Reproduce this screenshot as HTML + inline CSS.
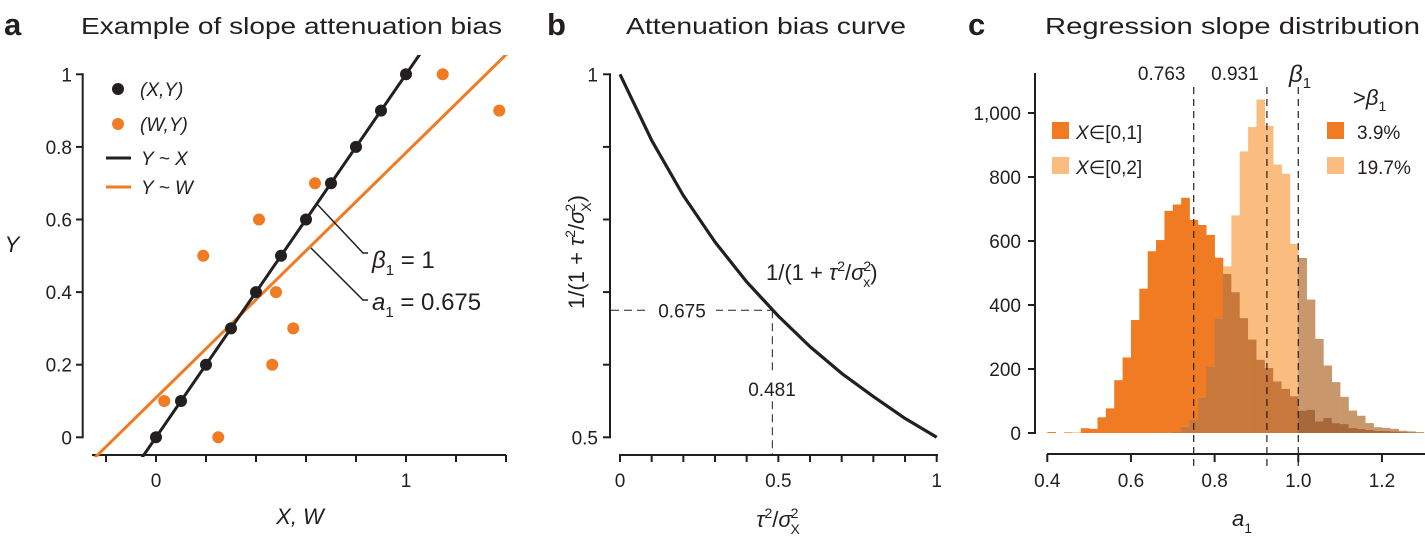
<!DOCTYPE html>
<html><head><meta charset="utf-8"><style>
html,body{margin:0;padding:0;background:#fff;}
svg{display:block;font-family:"Liberation Sans",sans-serif;}
</style></head><body>
<svg id="fig" width="1425" height="544" viewBox="0 0 1425 544" xmlns="http://www.w3.org/2000/svg">
<g fill="#231f20">
<text x="4" y="35" font-size="31" font-weight="bold">a</text>
<text x="81" y="34" font-size="23" font-family="Liberation Sans Narrow, Liberation Sans, sans-serif" textLength="421" lengthAdjust="spacingAndGlyphs">Example of slope attenuation bias</text>
<text x="547" y="35" font-size="31" font-weight="bold">b</text>
<text x="626" y="34" font-size="23" font-family="Liberation Sans Narrow, Liberation Sans, sans-serif" textLength="280" lengthAdjust="spacingAndGlyphs">Attenuation bias curve</text>
<text x="968" y="35" font-size="31" font-weight="bold">c</text>
<text x="1045" y="34" font-size="23" font-family="Liberation Sans Narrow, Liberation Sans, sans-serif" textLength="375" lengthAdjust="spacingAndGlyphs">Regression slope distribution</text>
</g>
<g id="pa"></g>
<g id="pb"></g>
<g id="pc"></g>
</svg>
<script>
// ---------- Panel a data ----------
const aXY_X = [0,0.1,0.2,0.3,0.4,0.5,0.6,0.7,0.8,0.9,1.0];
const aXY_Y = [0,0.1,0.2,0.3,0.4,0.5,0.6,0.7,0.8,0.9,1.0];
const aWY_W = [0.249,0.033,0.465,0.549,0.48,0.189,0.412,0.636,0.8,1.373,1.147];
const aWY_Y = [0,0.1,0.2,0.3,0.4,0.5,0.6,0.7,0.8,0.9,1.0];
const aFitXY = [1.0, 0.0];      // slope, intercept
const aFitWY = [0.675, 0.109];
const aYTicks = [0,0.2,0.4,0.6,0.8,1];
const aYTickLabels = ["0","0.2","0.4","0.6","0.8","1"];
const aXTicks = [-0.2,0,0.2,0.4,0.6,0.8,1,1.2,1.4];
const aXTickLabels = ["0","1"];
const aXTickLabelVals = [0,1];
// ---------- Panel b data ----------
const bTau = [0,0.1,0.2,0.3,0.4,0.5,0.6,0.7,0.8,0.9,1.0];
const bAtten = [1,0.909,0.833,0.769,0.714,0.667,0.625,0.588,0.556,0.526,0.5];
const bMark = [0.481,0.675];
const bYTicks = [0.5,0.6,0.7,0.8,0.9,1];
const bYTickLabels = {"0.5":"0.5","1":"1"};
const bXTicks = [0,0.1,0.2,0.3,0.4,0.5,0.6,0.7,0.8,0.9,1];
const bXTickLabelVals = [0,0.5,1];
const bXTickLabels = ["0","0.5","1"];
// ---------- Panel c data ----------
const cBinStart = 0.40;
const cBinWidth = 0.02;
const cCountsA = [3,0,2,1,15,13,49,77,165,236,353,451,568,603,694,714,735,666,650,619,548,497,440,359,292,229,203,161,138,115,70,73,36,47,31,28,16,13,10,7,7,5,3,2,1];
const cCountsB = [0,0,0,0,0,0,0,0,0,0,0,0,0,0,2,5,21,42,112,208,359,521,680,880,956,1042,960,839,810,591,547,417,294,211,159,113,70,54,31,18,16,13,7,5,3];
const cMeanLines = [0.75,0.925,1.0];
const cMeanLabels = ["0.763","0.931"];
const cBeta = 1.0;
const cPct = ["3.9%","19.7%"];
const cYTicks = [0,200,400,600,800,1000];
const cYTickLabels = ["0","200","400","600","800","1,000"];
const cXTicks = [0.4,0.6,0.8,1.0,1.2];
const cXTickLabels = ["0.4","0.6","0.8","1.0","1.2"];

const NS="http://www.w3.org/2000/svg";
const INK="#231f20", OR="#f07b23", LT="#fbbd7f";
function mk(parent,tag,attrs,txt){const e=document.createElementNS(NS,tag);for(const k in attrs)e.setAttribute(k,attrs[k]);if(txt!==undefined)e.textContent=txt;parent.appendChild(e);return e;}

// ================= Panel a =================
(function(){
const g=document.getElementById('pa');
const x=v=>156+v*250, y=v=>437.3-v*363;
const clip=mk(g,'clipPath',{id:'clipA'});
mk(clip,'rect',{x:92,y:55,width:420,height:402});
let e;
e=mk(g,'line',{x1:82.7,y1:y(1)-1,x2:82.7,y2:y(0)+1,stroke:INK,'stroke-width':2});

aYTicks.forEach((t,i)=>{
 e=mk(g,'line',{x1:76,x2:82.7,y1:y(t),y2:y(t),stroke:INK,'stroke-width':2});
 
 e=mk(g,'text',{x:72,y:y(t)+7,'text-anchor':'end','font-size':19,fill:INK},aYTickLabels[i]);
 
});
e=mk(g,'line',{x1:92,x2:506,y1:455,y2:455,stroke:INK,'stroke-width':2});

aXTicks.forEach(t=>{
 e=mk(g,'line',{x1:x(t),x2:x(t),y1:455,y2:462,stroke:INK,'stroke-width':2});
 
});
aXTickLabelVals.forEach((t,i)=>{
 e=mk(g,'text',{x:x(t),y:487,'text-anchor':'middle','font-size':19,fill:INK},aXTickLabels[i]);
 
});
e=mk(g,'text',{x:300,y:524,'text-anchor':'middle','font-size':22,'font-style':'italic',fill:INK},'X, W');

e=mk(g,'text',{x:12,y:252,'text-anchor':'middle','font-size':22,'font-style':'italic',fill:INK},'Y');

const cg=mk(g,'g',{'clip-path':'url(#clipA)'});
e=mk(cg,'line',{x1:x(-0.3),y1:y(aFitWY[1]+aFitWY[0]*-0.3),x2:x(1.5),y2:y(aFitWY[1]+aFitWY[0]*1.5),stroke:OR,'stroke-width':3});

aWY_W.forEach((w,i)=>{
 e=mk(g,'circle',{cx:x(w),cy:y(aWY_Y[i]),r:6,fill:OR});
 
});
e=mk(cg,'line',{x1:x(-0.1),y1:y(aFitXY[1]+aFitXY[0]*-0.1),x2:x(1.1),y2:y(aFitXY[1]+aFitXY[0]*1.1),stroke:INK,'stroke-width':3});

aXY_X.forEach((v,i)=>{
 e=mk(g,'circle',{cx:x(v),cy:y(aXY_Y[i]),r:6,fill:INK});
 
});
// annotations
e=mk(g,'polyline',{points:'317,204 363,253 368,253',fill:'none',stroke:INK,'stroke-width':1.5});

e=mk(g,'polyline',{points:'311,248 363,300 368,300',fill:'none',stroke:INK,'stroke-width':1.5});

e=mk(g,'text',{x:372,y:268,'font-size':24,fill:INK});

e.innerHTML='<tspan font-style="italic">β</tspan><tspan font-size="15" dy="7">1</tspan><tspan dy="-7"> = 1</tspan>';
e=mk(g,'text',{x:372,y:310,'font-size':24,fill:INK});

e.innerHTML='<tspan font-style="italic">a</tspan><tspan font-size="15" dy="7">1</tspan><tspan dy="-7"> = 0.675</tspan>';
// legend
const lg=mk(g,'g',{});

e=mk(lg,'circle',{cx:118,cy:89,r:6,fill:INK});
e=mk(lg,'text',{x:140,y:96,'font-size':19,'font-style':'italic',fill:INK},'(X,Y)');
e=mk(lg,'circle',{cx:118,cy:124,r:6,fill:OR});
e=mk(lg,'text',{x:140,y:131,'font-size':19,'font-style':'italic',fill:INK},'(W,Y)');
e=mk(lg,'line',{x1:106,x2:131,y1:158,y2:158,stroke:INK,'stroke-width':3});
e=mk(lg,'text',{x:141,y:165,'font-size':19,'font-style':'italic',fill:INK},'Y ~ X');
e=mk(lg,'line',{x1:106,x2:131,y1:187,y2:187,stroke:OR,'stroke-width':3});
e=mk(lg,'text',{x:141,y:194,'font-size':19,'font-style':'italic',fill:INK},'Y ~ W');
})();

// ================= Panel b =================
(function(){
const g=document.getElementById('pb');
const x=v=>620+v*316.7, y=v=>437.3-(v-0.5)*726;
let e;
e=mk(g,'line',{x1:610,x2:610,y1:y(1)-1,y2:y(0.5)+1,stroke:INK,'stroke-width':2});

bYTicks.forEach(t=>{
 e=mk(g,'line',{x1:603,x2:610,y1:y(t),y2:y(t),stroke:INK,'stroke-width':2});
 
 const lab=bYTickLabels[String(t)];
 if(lab){e=mk(g,'text',{x:598,y:y(t)+7,'text-anchor':'end','font-size':19,fill:INK},lab);
 }
});
e=mk(g,'line',{x1:619,x2:938,y1:455,y2:455,stroke:INK,'stroke-width':2});

bXTicks.forEach(t=>{
 e=mk(g,'line',{x1:x(t),x2:x(t),y1:455,y2:462,stroke:INK,'stroke-width':2});
 
});
bXTickLabelVals.forEach((t,i)=>{
 e=mk(g,'text',{x:x(t),y:487,'text-anchor':'middle','font-size':19,fill:INK},bXTickLabels[i]);
 
});
// dashed guides
e=mk(g,'line',{x1:611,x2:x(bMark[0]),y1:y(bMark[1]),y2:y(bMark[1]),stroke:INK,'stroke-width':1,'stroke-dasharray':'8,5'});

e=mk(g,'line',{x1:x(bMark[0]),x2:x(bMark[0]),y1:y(bMark[1]),y2:455,stroke:INK,'stroke-width':1,'stroke-dasharray':'8,5'});

e=mk(g,'rect',{x:648,y:y(bMark[1])-11,width:68,height:22,fill:'#fff'});
e=mk(g,'text',{x:682,y:y(bMark[1])+7,'text-anchor':'middle','font-size':19,fill:INK},bMark[1].toFixed(3));

e=mk(g,'rect',{x:740,y:375,width:64,height:22,fill:'#fff'});
e=mk(g,'text',{x:772,y:396,'text-anchor':'middle','font-size':19,fill:INK},bMark[0].toFixed(3));

// curve
let d='';bTau.forEach((t,i)=>{d+=(i?'L':'M')+x(t).toFixed(1)+','+y(bAtten[i]).toFixed(1);});
e=mk(g,'path',{d:d,fill:'none',stroke:INK,'stroke-width':3.2,'stroke-linejoin':'round'});

e=mk(g,'text',{x:766,y:280,'font-size':22,fill:INK});

e.innerHTML='1/(1 + <tspan font-style="italic">τ</tspan><tspan font-size="14" dy="-9">2</tspan><tspan dy="9">/</tspan><tspan font-style="italic">σ</tspan><tspan font-size="14" dx="-1" dy="-9">2</tspan><tspan font-size="14" dx="-8" dy="16">x</tspan><tspan dy="-7">)</tspan>';
e=mk(g,'text',{x:0,y:0,'font-size':22,fill:INK,'text-anchor':'middle',transform:'translate(584,252) rotate(-90)'});

e.innerHTML='1/(1 + <tspan font-style="italic">τ</tspan><tspan font-size="14" dy="-9">2</tspan><tspan dy="9">/</tspan><tspan font-style="italic">σ</tspan><tspan font-size="14" dx="-1" dy="-9">2</tspan><tspan font-size="14" dx="-8" dy="16">X</tspan><tspan dy="-7">)</tspan>';
e=mk(g,'text',{x:778,y:527,'font-size':22,fill:INK,'text-anchor':'middle'});

e.innerHTML='<tspan font-style="italic">τ</tspan><tspan font-size="14" dy="-9">2</tspan><tspan dy="9">/</tspan><tspan font-style="italic">σ</tspan><tspan font-size="14" dx="-1" dy="-9">2</tspan><tspan font-size="14" dx="-8" dy="16">X</tspan>';
})();

// ================= Panel c =================
(function(){
const g=document.getElementById('pc');
const x=v=>1047.3+(v-0.4)*418.3, y=v=>433-v*0.32;
const C={A:OR,B:LT,AB:'#c8783a',Br:'#c8986c',ABr:'#a7683a',Ar:'#a7683a'};
let e;
for(let i=0;i<cCountsA.length;i++){
 const a=cCountsA[i],b=cCountsB[i],s=cBinStart+i*cBinWidth;
 const right=s>=cBeta-1e-9;
 const x0=x(s),w=x(s+cBinWidth)-x0+0.3;
 const lo=Math.min(a,b),hi=Math.max(a,b);
 const hiCol = a>b ? (right?C.Ar:C.A) : (right?C.Br:C.B);
 if(hi>0){e=mk(g,'rect',{x:x0,y:y(hi),width:w,height:y(lo)-y(hi),fill:hiCol});
  }
 if(lo>0){e=mk(g,'rect',{x:x0,y:y(lo),width:w,height:y(0)-y(lo),fill:right?C.ABr:C.AB});
  }
}
// dashed lines
cMeanLines.forEach((v,i)=>{
 e=mk(g,'line',{x1:x(v),x2:x(v),y1:87,y2:470,stroke:INK,'stroke-width':1.2,'stroke-dasharray':'7,5'});
 
 if(i<cMeanLabels.length){
  e=mk(g,'text',{x:x(v)-32,y:80,'text-anchor':'middle','font-size':19,fill:INK},cMeanLabels[i]);
  
 }
});
e=mk(g,'text',{x:1289,y:82,'font-size':24,fill:INK});

e.innerHTML='<tspan font-style="italic">β</tspan><tspan font-size="15" dy="6">1</tspan>';
// axes
e=mk(g,'line',{x1:1035,x2:1035,y1:73,y2:434,stroke:INK,'stroke-width':2});

cYTicks.forEach((t,i)=>{
 e=mk(g,'line',{x1:1028,x2:1035,y1:y(t),y2:y(t),stroke:INK,'stroke-width':2});
 
 e=mk(g,'text',{x:1021,y:y(t)+7,'text-anchor':'end','font-size':19,fill:INK},cYTickLabels[i]);
 
});
e=mk(g,'line',{x1:1047,x2:1425,y1:454,y2:454,stroke:INK,'stroke-width':2});

cXTicks.forEach((t,i)=>{
 e=mk(g,'line',{x1:x(t),x2:x(t),y1:454,y2:462,stroke:INK,'stroke-width':2});
 
 e=mk(g,'text',{x:x(t),y:487,'text-anchor':'middle','font-size':19,fill:INK},cXTickLabels[i]);
 
});
e=mk(g,'text',{x:1232,y:526,'font-size':22,fill:INK});

e.innerHTML='<tspan font-style="italic">a</tspan><tspan font-size="14" dy="7">1</tspan>';
// legend
const lg=mk(g,'g',{});
e=mk(lg,'rect',{x:1052,y:122,width:17,height:17,fill:OR});
e=mk(lg,'text',{x:1076,y:139,'font-size':19,fill:INK});
e.innerHTML='<tspan font-style="italic">X</tspan>∈[0,1]';
e=mk(lg,'rect',{x:1052,y:157,width:17,height:17,fill:LT});
e=mk(lg,'text',{x:1076,y:174,'font-size':19,fill:INK});
e.innerHTML='<tspan font-style="italic">X</tspan>∈[0,2]';
e=mk(lg,'text',{x:1353,y:105,'font-size':22,fill:INK});
e.innerHTML='&gt;<tspan font-style="italic">β</tspan><tspan font-size="14" dy="6">1</tspan>';
e=mk(lg,'rect',{x:1327,y:122,width:17,height:17,fill:OR});
e=mk(lg,'text',{x:1357,y:139,'font-size':19,fill:INK},cPct[0]);
e=mk(lg,'rect',{x:1327,y:157,width:17,height:17,fill:LT});
e=mk(lg,'text',{x:1357,y:174,'font-size':19,fill:INK},cPct[1]);
})();
</script>
</body></html>
